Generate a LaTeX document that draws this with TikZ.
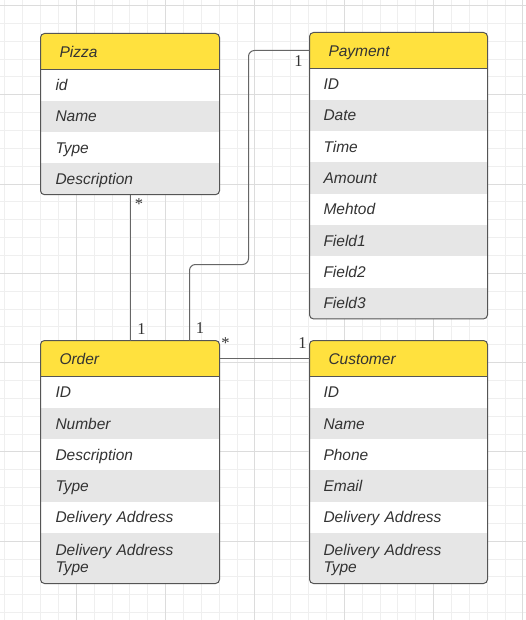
\documentclass[tikz,border=0pt]{standalone}
\usepackage{fontspec}
\newfontfamily\boxfont{Liberation Sans}
\newfontfamily\labfont{Liberation Serif}
\definecolor{hdr}{HTML}{FFE13E}
\definecolor{alt}{HTML}{E6E6E6}
\definecolor{bord}{HTML}{555555}
\definecolor{txt}{HTML}{333333}
\definecolor{conn}{HTML}{666666}
\definecolor{gmin}{HTML}{EFEFEF}
\definecolor{gmaj}{HTML}{DCDCDC}
\tikzset{
  entrow/.style={rectangle, inner sep=0pt, outer sep=0pt, inner xsep=15pt, minimum width=179pt,
    text width=149pt, align=left, anchor=north west,
    font=\boxfont\itshape\fontsize{15.5}{17.4}\selectfont, text=txt,
    text height=11.1pt, text depth=0pt},
  narrow/.style={minimum width=178pt, inner xsep=14pt, text width=150pt},
  hdrrow/.style={entrow, fill=hdr, minimum height=36pt, inner xsep=19pt, text width=141pt},
  narrowhdr/.style={minimum width=178pt, text width=140pt},
  whiterow/.style={entrow, fill=white, minimum height=31.3pt},
  grayrow/.style={entrow, fill=alt, minimum height=31.3pt},
  tallrow/.style={entrow, fill=alt, minimum height=50.5pt, text depth=17.4pt},
  entborder/.style={draw=bord, line width=1pt, rounded corners=4pt},
  hdrline/.style={draw=bord, line width=1pt},
  link/.style={draw=conn, line width=1pt},
  multlab/.style={inner sep=0pt, anchor=base, text=txt, font=\labfont\fontsize{16.5}{16.5}\selectfont},
  gridmin/.style={draw=gmin, line width=0.9pt},
  gridmaj/.style={draw=gmaj, line width=0.9pt},
}
\begin{document}
\begin{tikzpicture}[x=1pt, y=-1pt]
\useasboundingbox (0,0) rectangle (526,620);
\fill[white] (0,0) rectangle (526,620);
% grid
\foreach \i in {0,...,29} {\pgfmathsetmacro\gx{4.9+\i*17.86}\draw[gridmin] (\gx,0) -- (\gx,620);}
\foreach \j in {0,...,34} {\pgfmathsetmacro\gy{5.4+\j*17.86}\draw[gridmin] (0,\gy) -- (526,\gy);}
\foreach \i in {4,9,14,19,24,29} {\pgfmathsetmacro\gx{4.9+\i*17.86}\draw[gridmaj] (\gx,0) -- (\gx,620);}
\foreach \j in {0,5,10,15,20,25,30} {\pgfmathsetmacro\gy{5.4+\j*17.86}\draw[gridmaj] (0,\gy) -- (526,\gy);}

% Pizza
\begin{scope}
\clip[rounded corners=4pt] (40.5,33.5) rectangle (219.5,194.7);
\node[hdrrow] (pizza-h) at (40.5,33.5) {Pizza};
\node[whiterow] (pizza-1) at (pizza-h.south west) {id};
\node[grayrow] (pizza-2) at (pizza-1.south west) {Name};
\node[whiterow] (pizza-3) at (pizza-2.south west) {Type};
\node[grayrow] (pizza-4) at (pizza-3.south west) {Description};
\end{scope}
\draw[hdrline] (pizza-h.south west) -- (pizza-h.south east);
\draw[entborder] (pizza-h.north west) rectangle (pizza-4.south east);

% Payment
\begin{scope}
\clip[rounded corners=4pt] (309.5,32.5) rectangle (487.5,318.9);
\node[hdrrow, narrowhdr] (payment-h) at (309.5,32.5) {Payment};
\node[whiterow, narrow] (payment-1) at (payment-h.south west) {ID};
\node[grayrow, narrow] (payment-2) at (payment-1.south west) {Date};
\node[whiterow, narrow] (payment-3) at (payment-2.south west) {Time};
\node[grayrow, narrow] (payment-4) at (payment-3.south west) {Amount};
\node[whiterow, narrow] (payment-5) at (payment-4.south west) {Mehtod};
\node[grayrow, narrow] (payment-6) at (payment-5.south west) {Field1};
\node[whiterow, narrow] (payment-7) at (payment-6.south west) {Field2};
\node[grayrow, narrow] (payment-8) at (payment-7.south west) {Field3};
\end{scope}
\draw[hdrline] (payment-h.south west) -- (payment-h.south east);
\draw[entborder] (payment-h.north west) rectangle (payment-8.south east);

% Order
\begin{scope}
\clip[rounded corners=4pt] (40.5,340.5) rectangle (219.5,583.5);
\node[hdrrow] (order-h) at (40.5,340.5) {Order};
\node[whiterow] (order-1) at (order-h.south west) {ID};
\node[grayrow] (order-2) at (order-1.south west) {Number};
\node[whiterow] (order-3) at (order-2.south west) {Description};
\node[grayrow] (order-4) at (order-3.south west) {Type};
\node[whiterow] (order-5) at (order-4.south west) {Delivery Address};
\node[tallrow] (order-6) at (order-5.south west) {Delivery Address\\Type};
\end{scope}
\draw[hdrline] (order-h.south west) -- (order-h.south east);
\draw[entborder] (order-h.north west) rectangle (order-6.south east);

% Customer
\begin{scope}
\clip[rounded corners=4pt] (309.5,340.5) rectangle (487.5,583.5);
\node[hdrrow, narrowhdr] (customer-h) at (309.5,340.5) {Customer};
\node[whiterow, narrow] (customer-1) at (customer-h.south west) {ID};
\node[grayrow, narrow] (customer-2) at (customer-1.south west) {Name};
\node[whiterow, narrow] (customer-3) at (customer-2.south west) {Phone};
\node[grayrow, narrow] (customer-4) at (customer-3.south west) {Email};
\node[whiterow, narrow] (customer-5) at (customer-4.south west) {Delivery Address};
\node[tallrow, narrow] (customer-6) at (customer-5.south west) {Delivery Address\\Type};
\end{scope}
\draw[hdrline] (customer-h.south west) -- (customer-h.south east);
\draw[entborder] (customer-h.north west) rectangle (customer-6.south east);

% connectors
\coordinate (bendA) at (248.5,264.5);
\draw[link] ([xshift=0.5pt]pizza-4.south) -- ([xshift=0.5pt]order-h.north);
\draw[link] (order-h.east) -- (customer-h.west);
\draw[link, rounded corners=6pt] ([xshift=-30pt]order-h.north east) |- (bendA) |- (payment-h.west);

% multiplicity labels
\node[multlab] (m1) at (139,210) {*};
\node[multlab] (m2) at (141.5,334) {1};
\node[multlab] (m3) at (200,333.5) {1};
\node[multlab] (m4) at (225.5,348.5) {*};
\node[multlab] (m5) at (302.5,348) {1};
\node[multlab] (m6) at (298.5,67) {1};
\end{tikzpicture}
\end{document}
